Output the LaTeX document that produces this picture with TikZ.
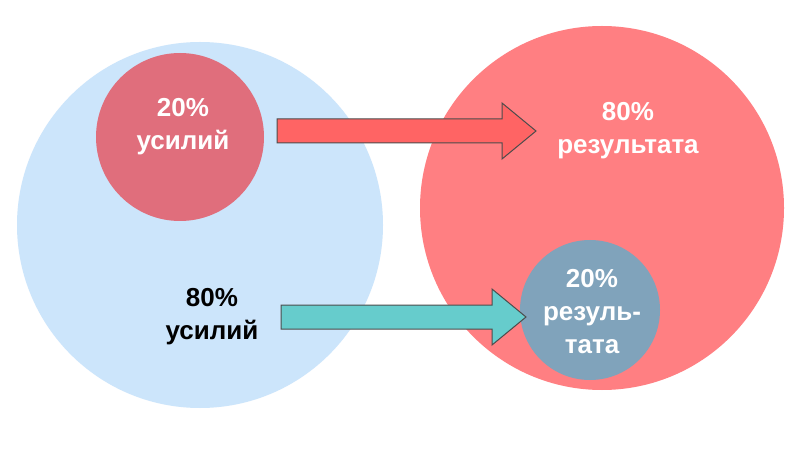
\documentclass[tikz,border=0pt]{standalone}
\usepackage{fontspec}
\setmainfont{Liberation Sans}
\begin{document}
\begin{tikzpicture}[x=1pt,y=-1pt,
  lbl/.style={font=\bfseries\fontsize{26}{33}\selectfont,align=center,text=white},
  arr/.style={draw=black!70,line width=1pt,line join=miter}]
\useasboundingbox (0,0) rectangle (800,454);
\fill[white] (0,0) rectangle (800,454);
\fill[fill={rgb,255:red,204;green,229;blue,251}] (200,225) circle (183);
\fill[fill={rgb,255:red,255;green,127;blue,130}] (602,208) circle (182);
\fill[fill={rgb,255:red,224;green,110;blue,124}] (180,137) circle (84);
\fill[fill={rgb,255:red,128;green,163;blue,187}] (590,310) circle (70);
\draw[arr,fill={rgb,255:red,255;green,100;blue,100}] (277,119)--(502,119)--(502,103)--(536,131)--(502,159)--(502,143)--(277,143)--cycle;
\draw[arr,fill={rgb,255:red,102;green,204;blue,204}] (281,305)--(492,305)--(492,289)--(526,317)--(492,345)--(492,329)--(281,329)--cycle;
\node[lbl] (a) at (183,127) {20\%\\усилий};
\node[lbl,text=black] (b) at (212,317) {80\%\\усилий};
\node[lbl] (c) at (628,131) {80\%\\результата};
\node[lbl] (d) at (592,312) {20\%\\резуль-\\тата};
\end{tikzpicture}
\end{document}
